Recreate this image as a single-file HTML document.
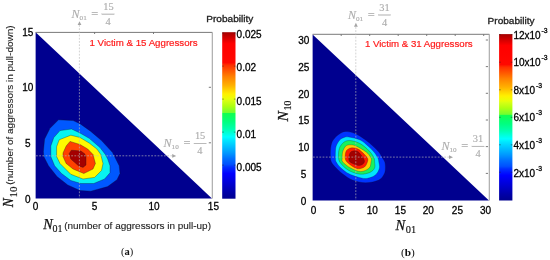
<!DOCTYPE html>
<html><head><meta charset="utf-8"><title>Figure</title>
<style>
html,body{margin:0;padding:0;background:#fff;}
svg{display:block}
.tk{font-family:"Liberation Sans",Arial,sans-serif;font-size:10px;fill:#000;stroke:#000;stroke-width:0.28}
.cal{font-family:"Liberation Sans",Arial,sans-serif;}
.mi{font-family:"Liberation Serif","DejaVu Serif",serif;font-style:italic}
.mr{font-family:"Liberation Serif","DejaVu Serif",serif}
.g{fill:#adadad;stroke:#adadad;stroke-width:0.15}
</style></head><body>
<svg width="550" height="260" viewBox="0 0 550 260">
<defs>
<linearGradient id="jet" x1="0" y1="0" x2="0" y2="1">
<stop offset="0.0000" stop-color="#a40000"/>
<stop offset="0.0685" stop-color="#ff0000"/>
<stop offset="0.1826" stop-color="#ff0800"/>
<stop offset="0.1982" stop-color="#ff3000"/>
<stop offset="0.2330" stop-color="#ff5800"/>
<stop offset="0.2667" stop-color="#ff8000"/>
<stop offset="0.3189" stop-color="#ffb000"/>
<stop offset="0.3712" stop-color="#fff000"/>
<stop offset="0.4012" stop-color="#e8ff08"/>
<stop offset="0.4132" stop-color="#d4ff14"/>
<stop offset="0.4432" stop-color="#b0ff10"/>
<stop offset="0.4823" stop-color="#70ff30"/>
<stop offset="0.4883" stop-color="#10ff50"/>
<stop offset="0.5393" stop-color="#00ff80"/>
<stop offset="0.5814" stop-color="#00ffb0"/>
<stop offset="0.6054" stop-color="#00ffd8"/>
<stop offset="0.6294" stop-color="#00ffff"/>
<stop offset="0.6474" stop-color="#00e8ff"/>
<stop offset="0.6943" stop-color="#00b8ff"/>
<stop offset="0.7255" stop-color="#0098ff"/>
<stop offset="0.7592" stop-color="#0070ff"/>
<stop offset="0.7946" stop-color="#0050ff"/>
<stop offset="0.8096" stop-color="#0030ff"/>
<stop offset="0.8486" stop-color="#0000ff"/>
<stop offset="0.9117" stop-color="#0000d0"/>
<stop offset="0.9622" stop-color="#0000a8"/>
<stop offset="1.0000" stop-color="#00008f"/>
</linearGradient>
</defs>
<rect width="550" height="260" fill="#fff"/>

<!-- ===== plot (a) ===== -->
<g>
<path d="M35.6,32.2 L35.6,198.6 L212,198.6 Z" fill="#00008f"/>
<path d="M58.5,119.8 L73.1,120.6 L80.0,123.7 L90.8,131.4 L101.5,140.6 L112.3,152.2 L113.8,155.0 L119.2,165.8 L120.0,173.5 L117.0,179.7 L107.7,186.6 L90.8,191.2 L80.0,190.5 L67.7,185.0 L57.0,176.6 L48.5,165.8 L43.8,156.6 L43.4,151.4 L44.6,139.0 L50.0,128.3Z" fill="#0058FF" stroke="#101020" stroke-opacity="0.8" stroke-width="0.4"/>
<path d="M60.0,130.6 L71.5,129.0 L80.0,133.0 L89.2,138.3 L100.0,147.5 L105.4,154.5 L107.7,159.0 L110.0,165.8 L110.0,172.8 L104.6,179.0 L93.8,183.5 L80.8,183.5 L70.8,180.5 L61.5,173.5 L54.6,165.8 L50.8,156.6 L50.8,146.0 L53.8,137.5Z" fill="#08F4F0" stroke="#101020" stroke-opacity="0.8" stroke-width="0.4"/>
<path d="M70.8,135.2 L80.0,137.5 L89.2,143.0 L96.9,149.0 L100.8,154.5 L103.0,163.5 L101.5,170.5 L94.6,177.4 L83.0,179.0 L70.8,174.3 L60.0,163.5 L56.6,156.6 L56.6,146.8 L59.2,139.8Z" fill="#FFFA00" stroke="#101020" stroke-opacity="0.8" stroke-width="0.4"/>
<path d="M70.0,141.4 L80.0,144.5 L87.7,149.0 L93.0,154.5 L95.4,163.5 L93.0,169.0 L83.8,173.5 L73.0,169.0 L66.2,163.5 L63.0,156.6 L63.0,153.0 L66.2,146.0Z" fill="#FF4000" stroke="#101020" stroke-opacity="0.8" stroke-width="0.4"/>
<path d="M71.5,150.2 L80.8,151.0 L84.6,153.7 L86.0,156.6 L86.0,165.0 L83.0,167.4 L78.5,165.8 L70.8,159.0 L69.2,153.5Z" fill="#A40000" stroke="#101020" stroke-opacity="0.8" stroke-width="0.4"/>
<!-- frame -->
<path d="M35.6,32.4 H212.4" stroke="#6a6a6a" stroke-width="0.9" fill="none"/>
<path d="M212.3,32.4 V198.6" stroke="#a4a4a4" stroke-width="1.1" fill="none"/>
<!-- ticks -->
<path d="M94.6,32.6 v1.4 M153.5,32.6 v1.4 M211,87.3 h-2.2 M211,142.8 h-2.2" stroke="#444" stroke-width="0.7" fill="none"/>
<!-- dashed guides -->
<path d="M79.4,25 V198" stroke="#b8b8b8" stroke-opacity="0.8" stroke-width="0.8" stroke-dasharray="1.8,1.4" fill="none"/>
<path d="M36,155.8 H172" stroke="#b8b8b8" stroke-opacity="0.8" stroke-width="0.8" stroke-dasharray="1.8,1.4" fill="none"/>
<path d="M79.5,21.2 l1.9,3.9 h-3.8 z" fill="#a4a4a4"/>
<path d="M176.2,155.9 l-4,-1.9 v3.8 z" fill="#a4a4a4"/>
<!-- tick labels -->
<g class="tk" text-anchor="end">
<text x="33.4" y="36.2">15</text>
<text x="33.4" y="91.2">10</text>
<text x="30.6" y="146.6">5</text>
<text x="30.6" y="202.6">0</text>
</g>
<g class="tk" text-anchor="middle">
<text x="35.6" y="209.7">0</text>
<text x="94.6" y="209.7">5</text>
<text x="154" y="209.7">10</text>
<text x="213.4" y="209.7">15</text>
</g>
<!-- title -->
<text class="cal" x="89.5" y="45.7" font-size="9.2" fill="#ff1c1c" stroke="#ff1c1c" stroke-width="0.2" textLength="108.2" lengthAdjust="spacingAndGlyphs">1 Victim &amp; 15 Aggressors</text>
<!-- x label -->
<text x="43.2" y="229" class="mi" font-size="14.2" fill="#111" stroke="#111" stroke-width="0.25">N</text>
<text x="52.5" y="232.2" class="mr" font-size="10.6" fill="#111" stroke="#111" stroke-width="0.15" textLength="10" lengthAdjust="spacingAndGlyphs">01</text>
<text class="cal" x="64.2" y="228.7" font-size="9.4" fill="#222" stroke="#222" stroke-width="0.1" textLength="146.8" lengthAdjust="spacingAndGlyphs">(number of aggressors in pull-up)</text>
<!-- y label -->
<g transform="translate(13.1,207.2) rotate(-90)">
<text x="0" y="0" class="mi" font-size="13.6" fill="#111" stroke="#111" stroke-width="0.25">N</text>
<text x="9.8" y="3.6" class="mr" font-size="10.8" fill="#111" stroke="#111" stroke-width="0.15" textLength="11" lengthAdjust="spacingAndGlyphs">10</text>
<text class="cal" x="22.4" y="-0.2" font-size="9.4" fill="#222" stroke="#222" stroke-width="0.1" textLength="159.3" lengthAdjust="spacingAndGlyphs">(number of aggressors in pull-down)</text>
</g>
<!-- annotation N01 = 15/4 -->
<g class="g">
<text x="71.4" y="18.3" class="mi" font-size="12">N</text>
<text x="79.6" y="19.8" class="mr" font-size="7" textLength="7.2" lengthAdjust="spacingAndGlyphs">01</text>
<text x="91.3" y="18.2" class="mr" font-size="12.4">=</text>
<text x="108.4" y="10.2" class="mr" font-size="10.4" text-anchor="middle">15</text>
<rect x="101.8" y="13.8" width="12.6" height="0.8"/>
<text x="108" y="24.9" class="mr" font-size="10.4" text-anchor="middle">4</text>
</g>
<!-- annotation N10 = 15/4 -->
<g class="g">
<text x="163.5" y="146.8" class="mi" font-size="12">N</text>
<text x="171.6" y="148.6" class="mr" font-size="7" textLength="7.2" lengthAdjust="spacingAndGlyphs">10</text>
<text x="183.4" y="147.2" class="mr" font-size="12.4">=</text>
<text x="200.1" y="138.6" class="mr" font-size="10.4" text-anchor="middle">15</text>
<rect x="193.9" y="143.1" width="12.6" height="0.8"/>
<text x="199.9" y="153.8" class="mr" font-size="10.4" text-anchor="middle">4</text>
</g>
<!-- colorbar -->
<rect x="222.2" y="32.2" width="13.3" height="166.5" fill="url(#jet)"/>
<path d="M235.5,33.1 h-1.6 M235.5,66.1 h-1.6 M235.5,99.1 h-1.6 M235.5,132.1 h-1.6 M235.5,165.1 h-1.6 M222.2,33.1 h1.6 M222.2,66.1 h1.6 M222.2,99.1 h1.6 M222.2,132.1 h1.6 M222.2,165.1 h1.6" stroke="#222" stroke-opacity="0.8" stroke-width="0.6"/>
<g class="tk">
<text x="236.6" y="38.2">0.025</text>
<text x="236.6" y="71.4">0.02</text>
<text x="236.6" y="105">0.015</text>
<text x="236.6" y="138.4">0.01</text>
<text x="236.6" y="171.4">0.005</text>
</g>
<text class="cal" x="206.3" y="22" font-size="8.8" fill="#222" stroke="#222" stroke-width="0.3" textLength="47" lengthAdjust="spacingAndGlyphs">Probability</text>
<!-- caption -->
<text x="121" y="255.4" font-family="'Liberation Serif',serif" font-size="10.5" fill="#111">(<tspan font-weight="bold">a</tspan>)</text>
</g>

<!-- ===== plot (b) ===== -->
<g>
<path d="M312.6,34.4 L312.6,200.4 L489,200.4 Z" fill="#00008f"/>
<path d="M343.0,132.0 C344.6,131.4 345.4,131.3 347.6,131.6 C349.8,131.9 353.0,132.6 356.0,134.0 C359.0,135.4 362.8,138.0 365.6,140.0 C368.4,142.0 370.6,144.0 372.8,146.0 C375.0,148.0 377.2,150.0 378.8,152.0 C380.4,154.0 381.4,156.3 382.4,158.0 C383.4,159.7 384.3,160.3 384.8,162.0 C385.3,163.7 385.5,166.0 385.4,168.0 C385.3,170.0 385.3,172.0 384.2,174.0 C383.1,176.0 381.9,178.5 378.8,180.0 C375.7,181.5 370.0,182.8 365.6,182.8 C361.2,182.8 356.2,181.5 352.4,180.0 C348.6,178.5 345.5,176.0 342.8,174.0 C340.1,172.0 338.1,170.0 336.2,168.0 C334.3,166.0 332.4,164.2 331.4,162.0 C330.4,159.8 330.5,157.7 330.4,155.0 C330.3,152.3 330.5,148.5 331.0,146.0 C331.5,143.5 332.0,141.8 333.2,140.0 C334.4,138.2 336.4,136.3 338.0,135.0 C339.6,133.7 341.4,132.6 343.0,132.0Z" fill="#0034FF" stroke="#101020" stroke-opacity="0.7" stroke-width="0.35"/>
<path d="M344.0,137.5 C345.5,137.0 346.1,136.6 348.8,137.0 C351.5,137.4 357.0,138.5 360.2,140.0 C363.4,141.5 365.7,144.0 368.0,146.0 C370.3,148.0 372.4,150.0 374.0,152.0 C375.6,154.0 377.1,156.3 377.9,158.0 C378.7,159.7 378.6,160.3 378.8,162.0 C379.1,163.7 379.8,166.0 379.4,168.0 C379.0,170.0 377.8,172.4 376.4,174.0 C375.0,175.6 373.2,176.6 371.0,177.3 C368.8,178.0 366.8,179.0 363.2,178.4 C359.6,177.8 353.1,175.7 349.4,174.0 C345.7,172.3 343.2,170.0 341.0,168.0 C338.8,166.0 337.1,163.7 336.2,162.0 C335.3,160.3 335.5,159.7 335.4,158.0 C335.3,156.3 335.3,154.0 335.4,152.0 C335.5,150.0 335.5,148.0 336.2,146.0 C336.9,144.0 338.5,141.4 339.8,140.0 C341.1,138.6 342.5,138.0 344.0,137.5Z" fill="#00E4FF" stroke="#101020" stroke-opacity="0.7" stroke-width="0.35"/>
<path d="M345.0,141.5 C346.7,140.6 348.4,140.4 350.6,140.6 C352.8,140.8 355.8,141.7 358.0,142.6 C360.2,143.5 361.8,144.4 363.8,146.0 C365.8,147.6 368.5,150.0 370.2,152.0 C371.9,154.0 373.3,156.3 374.0,158.0 C374.7,159.7 374.5,160.3 374.6,162.0 C374.7,163.7 375.4,166.3 374.6,168.0 C373.8,169.7 372.3,171.4 370.0,172.4 C367.7,173.4 363.8,174.3 360.8,174.2 C357.8,174.1 354.6,173.0 352.0,172.0 C349.4,171.0 347.2,169.7 345.2,168.0 C343.2,166.3 340.9,163.7 339.8,162.0 C338.7,160.3 338.8,159.7 338.6,158.0 C338.4,156.3 338.3,154.0 338.6,152.0 C338.9,150.0 339.3,147.8 340.4,146.0 C341.5,144.2 343.3,142.4 345.0,141.5Z" fill="#18F25C" stroke="#101020" stroke-opacity="0.7" stroke-width="0.35"/>
<path d="M350.6,144.8 C352.3,144.8 353.4,144.8 356.0,146.0 C358.6,147.2 363.7,150.0 366.2,152.0 C368.7,154.0 370.2,156.3 371.0,158.0 C371.8,159.7 371.3,160.3 371.0,162.0 C370.7,163.7 370.9,166.4 369.2,168.0 C367.5,169.6 363.9,171.6 360.8,171.6 C357.7,171.6 353.6,169.6 350.6,168.0 C347.6,166.4 344.2,163.7 342.8,162.0 C341.4,160.3 342.2,159.7 342.2,158.0 C342.2,156.3 342.0,154.0 342.6,152.0 C343.2,150.0 344.5,147.2 345.8,146.0 C347.1,144.8 348.9,144.8 350.6,144.8Z" fill="#FFCC00" stroke="#101020" stroke-opacity="0.7" stroke-width="0.35"/>
<path d="M351.8,147.8 C353.3,147.7 355.3,147.9 357.0,148.6 C358.7,149.3 360.3,150.4 362.0,152.0 C363.7,153.6 366.5,156.3 367.4,158.0 C368.3,159.7 367.9,160.5 367.4,162.0 C366.9,163.5 365.9,165.9 364.4,167.0 C362.9,168.1 360.2,168.8 358.4,168.8 C356.6,168.8 355.3,168.1 353.4,167.0 C351.5,165.9 348.4,163.5 347.0,162.0 C345.6,160.5 345.4,159.7 345.2,158.0 C345.0,156.3 345.3,153.5 345.8,152.0 C346.3,150.5 347.0,149.9 348.0,149.2 C349.0,148.5 350.3,147.9 351.8,147.8Z" fill="#FF1C00" stroke="#101020" stroke-opacity="0.7" stroke-width="0.35"/>
<path d="M353.0,151.0 C354.3,150.8 356.3,150.4 358.0,151.6 C359.7,152.8 362.1,156.3 363.2,158.0 C364.3,159.7 364.7,160.8 364.4,162.0 C364.1,163.2 362.6,164.5 361.4,165.0 C360.2,165.5 359.1,165.7 357.2,165.2 C355.3,164.7 351.4,163.2 350.0,162.0 C348.6,160.8 348.8,159.5 348.8,158.0 C348.8,156.5 349.3,154.2 350.0,153.0 C350.7,151.8 351.7,151.2 353.0,151.0Z" fill="#A20000" stroke="#101020" stroke-opacity="0.7" stroke-width="0.35"/>
<path d="M312.6,34.3 H489.4" stroke="#6a6a6a" stroke-width="0.9" fill="none"/>
<path d="M489.3,34.3 V200.4" stroke="#a4a4a4" stroke-width="1.1" fill="none"/>
<path d="M341.2,34.6 v1.4 M369.7,34.6 v1.4 M398.2,34.6 v1.4 M426.7,34.6 v1.4 M455.2,34.6 v1.4 M483.7,34.6 v1.4 M488,173.4 h-2.2 M488,146.6 h-2.2 M488,120 h-2.2 M488,93.3 h-2.2 M488,66.6 h-2.2 M488,40 h-2.2" stroke="#444" stroke-width="0.7" fill="none"/>
<path d="M355.8,27 V200" stroke="#b8b8b8" stroke-opacity="0.8" stroke-width="0.8" stroke-dasharray="1.8,1.4" fill="none"/>
<path d="M313,157.1 H449" stroke="#b8b8b8" stroke-opacity="0.8" stroke-width="0.8" stroke-dasharray="1.8,1.4" fill="none"/>
<path d="M355.9,22.8 l1.9,4 h-3.8 z" fill="#a4a4a4"/>
<path d="M453,157.2 l-4,-1.9 v3.8 z" fill="#a4a4a4"/>
<g class="tk" text-anchor="end">
<text x="309.4" y="44">30</text>
<text x="309.4" y="71.2">25</text>
<text x="309.4" y="97.8">20</text>
<text x="309.4" y="124.2">15</text>
<text x="309.4" y="150.8">10</text>
<text x="306.2" y="177.6">5</text>
<text x="306.2" y="205.4">0</text>
</g>
<g class="tk" text-anchor="middle">
<text x="313.6" y="214">0</text>
<text x="341.8" y="214">5</text>
<text x="372.2" y="214">10</text>
<text x="400.4" y="214">15</text>
<text x="428.3" y="214">20</text>
<text x="457.4" y="214">25</text>
<text x="485.6" y="214">30</text>
</g>
<text class="cal" x="364.9" y="46.9" font-size="9.2" fill="#ff1c1c" stroke="#ff1c1c" stroke-width="0.2" textLength="107.8" lengthAdjust="spacingAndGlyphs">1 Victim &amp; 31 Aggressors</text>
<!-- x label -->
<text x="395.6" y="229.8" class="mi" font-size="14.6" fill="#111" stroke="#111" stroke-width="0.25">N</text>
<text x="405.7" y="232.6" class="mr" font-size="10.8" fill="#111" stroke="#111" stroke-width="0.15" textLength="10.4" lengthAdjust="spacingAndGlyphs">01</text>
<!-- y label -->
<g transform="translate(287.9,121.4) rotate(-90)">
<text x="0" y="0" class="mi" font-size="15.6" fill="#111" stroke="#111" stroke-width="0.25">N</text>
<text x="11.2" y="2.9" class="mr" font-size="10.8" fill="#111" stroke="#111" stroke-width="0.15" textLength="9.6" lengthAdjust="spacingAndGlyphs">10</text>
</g>
<g class="g">
<text x="347.9" y="19" class="mi" font-size="12">N</text>
<text x="356" y="20.6" class="mr" font-size="7" textLength="7.2" lengthAdjust="spacingAndGlyphs">01</text>
<text x="367.7" y="19.2" class="mr" font-size="12.4">=</text>
<text x="384.5" y="11" class="mr" font-size="10.4" text-anchor="middle">31</text>
<rect x="378.2" y="14.6" width="12.6" height="0.8"/>
<text x="384.5" y="26" class="mr" font-size="10.4" text-anchor="middle">4</text>
</g>
<g class="g">
<text x="441.4" y="149.7" class="mi" font-size="12">N</text>
<text x="449.5" y="151.8" class="mr" font-size="7" textLength="7.2" lengthAdjust="spacingAndGlyphs">10</text>
<text x="461.3" y="150.2" class="mr" font-size="12.4">=</text>
<text x="478" y="141.7" class="mr" font-size="10.4" text-anchor="middle">31</text>
<rect x="471.8" y="146" width="12.6" height="0.8"/>
<text x="478" y="157" class="mr" font-size="10.4" text-anchor="middle">4</text>
</g>
<rect x="499.1" y="34.1" width="13.3" height="166.4" fill="url(#jet)"/>
<path d="M512.4,34.6 h-1.6 M512.4,62.2 h-1.6 M512.4,89.8 h-1.6 M512.4,117.3 h-1.6 M512.4,144.8 h-1.6 M512.4,172.2 h-1.6 M499.1,34.6 h1.6 M499.1,62.2 h1.6 M499.1,89.8 h1.6 M499.1,117.3 h1.6 M499.1,144.8 h1.6 M499.1,172.2 h1.6" stroke="#222" stroke-opacity="0.8" stroke-width="0.6"/>
<g class="tk">
<text x="513.4" y="39">12x10<tspan font-size="6.8" dy="-5.8" dx="0.8">-3</tspan></text>
<text x="513.4" y="65.8">10x10<tspan font-size="6.8" dy="-5.8" dx="0.8">-3</tspan></text>
<text x="513.4" y="93.8">8x10<tspan font-size="6.8" dy="-5.8" dx="0.8">-3</tspan></text>
<text x="513.4" y="121.2">6x10<tspan font-size="6.8" dy="-5.8" dx="0.8">-3</tspan></text>
<text x="513.4" y="149">4x10<tspan font-size="6.8" dy="-5.8" dx="0.8">-3</tspan></text>
<text x="513.4" y="176.8">2x10<tspan font-size="6.8" dy="-5.8" dx="0.8">-3</tspan></text>
</g>
<text class="cal" x="487.6" y="23.5" font-size="8.8" fill="#222" stroke="#222" stroke-width="0.3" textLength="47" lengthAdjust="spacingAndGlyphs">Probability</text>
<text x="400.9" y="255.5" font-family="'Liberation Serif',serif" font-size="11.3" fill="#111">(<tspan font-weight="bold">b</tspan>)</text>
</g>
</svg>
</body></html>
